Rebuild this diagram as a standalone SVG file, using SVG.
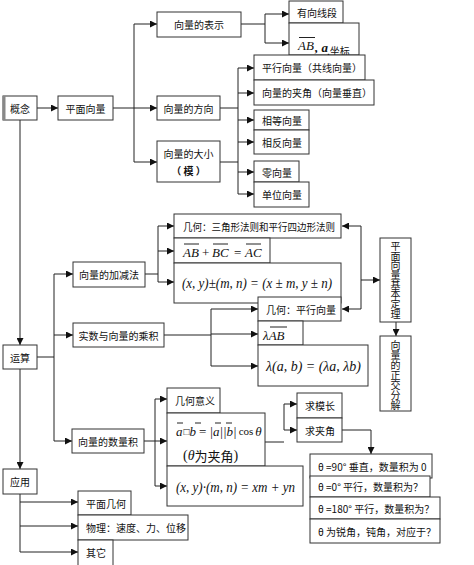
<svg xmlns="http://www.w3.org/2000/svg" width="474" height="565" viewBox="0 0 474 565">
<defs>
<marker id="ar" markerUnits="userSpaceOnUse" markerWidth="7" markerHeight="7" refX="7" refY="3.5" orient="auto"><path d="M0,0 L7,3.5 L0,7 z" fill="#111"/></marker>
<style>
.b{fill:#fff;stroke:#333;stroke-width:1}
.t{font-family:"Noto Sans CJK SC","Liberation Sans",sans-serif;font-size:10px;fill:#111;dominant-baseline:central}
.c{text-anchor:middle}
.m{font-family:"Liberation Serif",serif;font-style:italic;fill:#111;dominant-baseline:central}
.n{font-style:normal}
.l{fill:none;stroke:#222;stroke-width:1}
.a{fill:none;stroke:#222;stroke-width:1;marker-end:url(#ar)}
</style>
</defs>
<rect width="474" height="565" fill="#fff"/>
<g id="connectors">
<path class="a" d="M37,108 H58"/>
<path class="l" d="M113,108 H134 M134,24 V162"/>
<path class="a" d="M134,24 H157"/>
<path class="a" d="M134,108 H157"/>
<path class="a" d="M134,162 H157"/>
<path class="l" d="M241,24 H265 M265,14 V43"/>
<path class="a" d="M265,14 H289"/>
<path class="a" d="M265,43 H289"/>
<path class="l" d="M220,108 H238 M220,162 H238 M238,68 V194"/>
<path class="a" d="M238,68 H254"/>
<path class="a" d="M238,93 H254"/>
<path class="a" d="M238,120 H254"/>
<path class="a" d="M238,142 H254"/>
<path class="a" d="M238,172 H254"/>
<path class="a" d="M238,194 H254"/>
<path class="a" d="M20,120 V345"/>
<path class="a" d="M20,369 V469"/>
<path class="l" d="M37,357 H54 M54,274 V441"/>
<path class="a" d="M54,274 H73"/>
<path class="a" d="M54,335 H73"/>
<path class="a" d="M54,441 H72"/>
<path class="l" d="M145,274 H158 M158,226 V282"/>
<path class="a" d="M158,226 H174"/>
<path class="a" d="M158,251 H174"/>
<path class="a" d="M158,282 H174"/>
<path class="l" d="M164,335 H211 M211,309 V366"/>
<path class="a" d="M211,309 H258"/>
<path class="a" d="M211,334 H258"/>
<path class="a" d="M211,366 H258"/>
<path class="l" d="M361,226 V309"/>
<path class="a" d="M361,226 H342"/>
<path class="a" d="M361,309 H342"/>
<path class="a" d="M361,280 H380"/>
<path class="a" d="M396,322 V336"/>
<path class="l" d="M144,441 H155 M155,399 V486"/>
<path class="a" d="M155,399 H167"/>
<path class="a" d="M155,441 H167"/>
<path class="a" d="M155,486 H167"/>
<path class="l" d="M265,442 H284 M284,404 V430"/>
<path class="a" d="M284,404 H297"/>
<path class="a" d="M284,430 H297"/>
<path class="l" d="M342,430 H371"/>
<path class="a" d="M371,430 V454"/>
<path class="l" d="M20,494 V552"/>
<path class="a" d="M20,502 H78"/>
<path class="a" d="M20,526 H78"/>
<path class="a" d="M20,552 H78"/>
</g>
<g id="n-gainian"><rect class="b" x="3" y="96" width="34" height="24"/><rect x="3" y="96" width="2.5" height="24" fill="#888"/><text class="t c" x="20" y="108">概念</text></g>
<g id="n-pingmian"><rect class="b" x="58" y="96" width="55" height="24"/><text class="t c" x="85.5" y="108">平面向量</text></g>
<g id="n-biaoshi"><rect class="b" x="157" y="12" width="84" height="25"/><text class="t c" x="199" y="24.5">向量的表示</text></g>
<g id="n-fangxiang"><rect class="b" x="157" y="96" width="63" height="24"/><text class="t c" x="188.5" y="108">向量的方向</text></g>
<g id="n-daxiao"><rect class="b" x="157" y="141" width="63" height="41"/><text class="t c" x="188.5" y="153">向量的大小</text><text class="t c" x="188.5" y="170" font-weight="bold">（ 模 ）</text></g>
<g id="n-youxiang"><rect class="b" x="289" y="1" width="54" height="22"/><text class="t" x="297" y="12">有向线段</text></g>
<g id="n-zuobiao"><rect class="b" x="289" y="23" width="70" height="32"/>
<text class="m" x="298" y="45" font-size="13">AB</text><path class="l" d="M299,37.5 H315"/>
<text class="m" x="315" y="47" font-size="13" font-weight="bold">, a</text>
<text class="t" x="327" y="50" font-size="10">,坐标</text></g>
<g id="n-pingxing"><rect class="b" x="254" y="55" width="111" height="25"/><text class="t" x="262" y="67.5">平行向量（共线向量）</text></g>
<g id="n-jiajiao"><rect class="b" x="254" y="80" width="120" height="25"/><text class="t" x="262" y="92.5">向量的夹角（向量垂直）</text></g>
<g id="n-xiangdeng"><rect class="b" x="254" y="110" width="55" height="20"/><text class="t" x="262" y="120">相等向量</text></g>
<g id="n-xiangfan"><rect class="b" x="254" y="130" width="55" height="24"/><text class="t" x="262" y="142">相反向量</text></g>
<g id="n-ling"><rect class="b" x="254" y="161" width="45" height="21"/><text class="t" x="262" y="172">零向量</text></g>
<g id="n-danwei"><rect class="b" x="254" y="182" width="55" height="25"/><text class="t" x="262" y="194">单位向量</text></g>
<g id="n-yunsuan"><rect class="b" x="3" y="345" width="34" height="24"/><text class="t c" x="20" y="357">运算</text></g>
<g id="n-jiajian"><rect class="b" x="73" y="262" width="72" height="25"/><text class="t c" x="109" y="274.5">向量的加减法</text></g>
<g id="n-shishu"><rect class="b" x="73" y="323" width="91" height="24"/><text class="t c" x="118.5" y="335">实数与向量的乘积</text></g>
<g id="n-sanjiao"><rect class="b" x="174" y="214" width="167" height="24"/><text class="t" x="183" y="226" textLength="152" lengthAdjust="spacingAndGlyphs">几何：三角形法则和平行四边形法则</text></g>
<g id="n-abbc"><rect class="b" x="174" y="238" width="96" height="25"/>
<text class="m" x="183" y="252" font-size="13">AB</text><text class="m n" x="202" y="252" font-size="13">+</text><text class="m" x="212" y="252" font-size="13">BC</text><text class="m n" x="234" y="252" font-size="13">=</text><text class="m" x="245" y="252" font-size="13">AC</text>
<path class="l" d="M184,244 H199 M213,244 H228 M246,244 H261"/></g>
<g id="n-zuobiaojia"><rect class="b" x="174" y="263" width="167" height="40"/><text class="m" x="182" y="283" font-size="15" textLength="150" lengthAdjust="spacingAndGlyphs">(x, y)±(m, n) = (x ± m, y ± n)</text></g>
<g id="n-pxxl"><rect class="b" x="258" y="297" width="83" height="24"/><text class="t" x="266" y="309">几何：平行向量</text></g>
<g id="n-lab"><rect class="b" x="258" y="321" width="45" height="24"/><text class="m" x="263" y="335" font-size="13">λAB</text><path class="l" d="M270,327 H287"/></g>
<g id="n-lambda"><rect class="b" x="258" y="345" width="110" height="41"/><text class="m" x="266" y="366" font-size="15" textLength="95" lengthAdjust="spacingAndGlyphs">λ(a, b) = (λa, λb)</text></g>
<g id="n-dingli"><rect class="b" x="380" y="238" width="31" height="84"/>
<text class="t c" x="395.5" y="280" style="writing-mode:vertical-rl" font-size="10" letter-spacing="-0.3">平面向量基本定理</text></g>
<g id="n-zhengjiao"><rect class="b" x="380" y="336" width="31" height="75"/>
<text class="t c" x="395.5" y="375" style="writing-mode:vertical-rl" font-size="10">向量的正交分解</text></g>
<g id="n-shuliangji"><rect class="b" x="72" y="429" width="72" height="24"/><text class="t c" x="108" y="441">向量的数量积</text></g>
<g id="n-yiyi"><rect class="b" x="167" y="388" width="53" height="25"/><text class="t" x="175" y="400.5">几何意义</text></g>
<g id="n-dianji"><rect class="b" x="167" y="413" width="98" height="53"/>
<text class="m" x="176" y="431" font-size="13">a<tspan class="n" font-size="10" dx="1">□</tspan>b<tspan class="n" dx="3">=</tspan><tspan dx="3">|a||b|</tspan><tspan class="n" font-size="11" dx="2">cos</tspan><tspan dx="2">θ</tspan></text>
<path class="l" d="M177,423 H183 M195,423 H201 M215,423 H221 M226,423 H232"/>
<text class="m n" x="183" y="455" font-size="14">(<tspan style="font-style:italic">θ</tspan><tspan font-family="Noto Sans CJK SC,sans-serif" font-size="13">为夹角</tspan>)</text></g>
<g id="n-zuobiaoji"><rect class="b" x="167" y="466" width="136" height="40"/><text class="m" x="176" y="487" font-size="14" textLength="119" lengthAdjust="spacingAndGlyphs">(x, y)·(m, n) = xm + yn</text></g>
<g id="n-mochang"><rect class="b" x="297" y="393" width="45" height="25"/><text class="t" x="305" y="405.5">求模长</text></g>
<g id="n-qiujiajiao"><rect class="b" x="297" y="418" width="45" height="24"/><text class="t" x="305" y="430">求夹角</text></g>
<g id="n-t90"><rect class="b" x="310" y="454" width="122" height="24"/><text class="t" x="318" y="466">θ =90°  垂直，数量积为 0</text></g>
<g id="n-t0"><rect class="b" x="310" y="476" width="120" height="21"/><text class="t" x="318" y="486.5">θ =0°  平行，数量积为？</text></g>
<g id="n-t180"><rect class="b" x="310" y="497" width="130" height="22"/><text class="t" x="318" y="508">θ =180°  平行，数量积为？</text></g>
<g id="n-tjiao"><rect class="b" x="310" y="519" width="130" height="24"/><text class="t" x="318" y="531">θ 为锐角，钝角，对应于？</text></g>
<g id="n-yingyong"><rect class="b" x="3" y="469" width="34" height="25"/><text class="t c" x="20" y="481.5">应用</text></g>
<g id="n-jihe"><rect class="b" x="78" y="491" width="53" height="24"/><text class="t" x="86" y="503">平面几何</text></g>
<g id="n-wuli"><rect class="b" x="78" y="515" width="110" height="25"/><text class="t" x="86" y="527.5">物理：速度、力、位移</text></g>
<g id="n-qita"><rect class="b" x="78" y="540" width="35" height="30"/><text class="t" x="86" y="552">其它</text></g>
</svg>
